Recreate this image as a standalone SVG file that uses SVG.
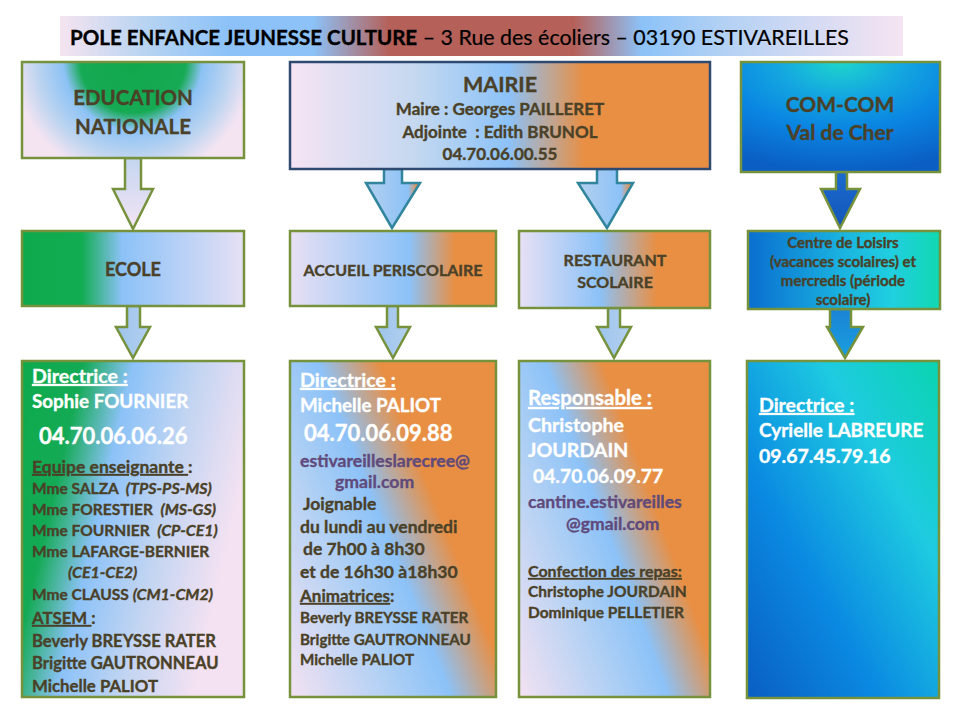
<svg xmlns="http://www.w3.org/2000/svg" width="962" height="720" viewBox="0 0 962 720">
<defs>
<linearGradient id="gHeader" x1="0" y1="0" x2="1" y2="0">
<stop offset="0" stop-color="#f6e4f0"/>
<stop offset="0.1" stop-color="#b8d4f2"/>
<stop offset="0.2" stop-color="#8cc2f8"/>
<stop offset="0.3" stop-color="#8cc2f8"/>
<stop offset="0.39" stop-color="#b5615a"/>
<stop offset="0.61" stop-color="#b5615a"/>
<stop offset="0.69" stop-color="#8cc2f8"/>
<stop offset="0.78" stop-color="#b0d0f4"/>
<stop offset="1" stop-color="#f6e4f2"/>
</linearGradient>
<radialGradient id="gEduNat" gradientUnits="userSpaceOnUse" cx="133" cy="60" r="120">
<stop offset="0" stop-color="#10a84c"/>
<stop offset="0.44" stop-color="#16aa54"/>
<stop offset="0.58" stop-color="#8cc2f5"/>
<stop offset="0.8" stop-color="#bcd4f0"/>
<stop offset="1" stop-color="#f4e4f2"/>
</radialGradient>
<linearGradient id="gEcole" x1="0" y1="0" x2="1" y2="0">
<stop offset="0" stop-color="#0daa4c"/>
<stop offset="0.27" stop-color="#12ac52"/>
<stop offset="0.45" stop-color="#8cc2f8"/>
<stop offset="1" stop-color="#e6e0f4"/>
</linearGradient>
<linearGradient id="gEcoleDet" x1="0" y1="0" x2="1" y2="0.35">
<stop offset="0" stop-color="#0daa4c"/>
<stop offset="0.25" stop-color="#14aa55"/>
<stop offset="0.45" stop-color="#8cc2f8"/>
<stop offset="0.7" stop-color="#c0d4f2"/>
<stop offset="1" stop-color="#f4e2f2"/>
</linearGradient>
<linearGradient id="gMairie" x1="0" y1="0" x2="1" y2="0">
<stop offset="0" stop-color="#f6e4f4"/>
<stop offset="0.3" stop-color="#c4d8f0"/>
<stop offset="0.52" stop-color="#8cc2f8"/>
<stop offset="0.7" stop-color="#e88f44"/>
<stop offset="1" stop-color="#e88f44"/>
</linearGradient>
<linearGradient id="gAccueil" x1="0" y1="0" x2="1" y2="0">
<stop offset="0" stop-color="#e8e0f4"/>
<stop offset="0.58" stop-color="#8cc2f8"/>
<stop offset="0.8" stop-color="#e88f44"/>
<stop offset="1" stop-color="#e88f44"/>
</linearGradient>
<linearGradient id="gResto" x1="0" y1="0" x2="1" y2="0">
<stop offset="0" stop-color="#e8e0f4"/>
<stop offset="0.42" stop-color="#8cc2f8"/>
<stop offset="0.72" stop-color="#e88f44"/>
<stop offset="1" stop-color="#e88f44"/>
</linearGradient>
<linearGradient id="gDiag" x1="0" y1="1" x2="1" y2="0.35">
<stop offset="0" stop-color="#f4e2f2"/>
<stop offset="0.35" stop-color="#b0d0f4"/>
<stop offset="0.55" stop-color="#8cc2f8"/>
<stop offset="0.76" stop-color="#e88f44"/>
<stop offset="1" stop-color="#e88f44"/>
</linearGradient>
<radialGradient id="gComCom" cx="0.5" cy="0" r="1" fx="0.5" fy="0">
<stop offset="0" stop-color="#1ed6cc"/>
<stop offset="0.3" stop-color="#14a8e0"/>
<stop offset="0.6" stop-color="#0a86e2"/>
<stop offset="1" stop-color="#0a5ec4"/>
</radialGradient>
<linearGradient id="gLoisirs" x1="0" y1="0" x2="1" y2="0">
<stop offset="0" stop-color="#0a6ed0"/>
<stop offset="0.5" stop-color="#1ab4e0"/>
<stop offset="0.75" stop-color="#20cfe0"/>
<stop offset="1" stop-color="#10d8b0"/>
</linearGradient>
<linearGradient id="gComDet" x1="0" y1="1" x2="1" y2="0">
<stop offset="0" stop-color="#0a5ec4"/>
<stop offset="0.35" stop-color="#0a8ae2"/>
<stop offset="0.7" stop-color="#1ecbe0"/>
<stop offset="1" stop-color="#0ad4b0"/>
</linearGradient>
<linearGradient id="gArrEdu" x1="0" y1="0" x2="0" y2="1">
<stop offset="0" stop-color="#c4d6f0"/>
<stop offset="1" stop-color="#f4e4f4"/>
</linearGradient>
<linearGradient id="gArrMairie" x1="0" y1="0" x2="1" y2="0">
<stop offset="0" stop-color="#b4d0ee"/>
<stop offset="0.78" stop-color="#8cc2f8"/>
<stop offset="0.95" stop-color="#e88f44"/>
</linearGradient>
<linearGradient id="gArrBlue" x1="0" y1="0" x2="1" y2="0">
<stop offset="0" stop-color="#9cc4ec"/>
<stop offset="1" stop-color="#b4d0f0"/>
</linearGradient>
<linearGradient id="gArrCom" x1="0" y1="0" x2="0" y2="1">
<stop offset="0" stop-color="#1a6ad0"/>
<stop offset="1" stop-color="#1456b8"/>
</linearGradient>
<linearGradient id="gArrLoisirs" x1="0" y1="0" x2="0" y2="1">
<stop offset="0" stop-color="#1a84d4"/>
<stop offset="1" stop-color="#1a9ee0"/>
</linearGradient>
</defs>
<style>
.box{stroke:#76923c;stroke-width:2.5}
.arr{stroke:#76923c;stroke-width:2.5;stroke-linejoin:miter}
text{font-family:Lato,"Liberation Sans",sans-serif;font-weight:bold;fill:#4a4128;stroke:#4a4128;stroke-width:0.35}
.c{text-anchor:middle}
.w{fill:#ffffff;stroke:#ffffff}
.p{fill:#604a7b;stroke:#604a7b}
.k{fill:#000000;stroke:#000000}
.i{font-style:italic}
.u{text-decoration:underline}
</style>
<rect width="962" height="720" fill="#ffffff"/>

<g id="header">
<rect x="60" y="16" width="843" height="40" fill="url(#gHeader)"/>
<text class="k" x="70" y="45" font-size="20.5">POLE ENFANCE JEUNESSE CULTURE<tspan font-weight="normal" font-size="21.4" stroke-width="0.2"> – 3 Rue des écoliers – 03190 ESTIVAREILLES</tspan></text>
</g>

<g id="connectors">
<polygon class="arr" fill="url(#gArrEdu)" points="125,158 141,158 141,189 153,189 133,229 113,189 125,189"/>
<polygon fill="url(#gArrMairie)" stroke="#31859c" stroke-width="2.5" points="384,169 402,169 402,183 420,183 392,228 366,183 384,183"/>
<polygon fill="url(#gArrMairie)" stroke="#31859c" stroke-width="2.5" points="597,169 617,169 617,183 633,183 607,228 578,183 597,183"/>
<polygon class="arr" fill="url(#gArrCom)" points="836,172 847,172 847,189 860,189 840,228 821,189 836,189"/>
<polygon class="arr" fill="url(#gArrBlue)" points="127,306 140,306 140,327 150,327 133,358 116,327 127,327"/>
<polygon class="arr" fill="url(#gArrBlue)" points="387,306 398,306 398,327 410,327 393,358 376,327 387,327"/>
<polygon class="arr" fill="url(#gArrBlue)" points="608,308 620,308 620,327 631,327 614,358 597,327 608,327"/>
<polygon class="arr" fill="url(#gArrLoisirs)" points="830,309 851,309 851,327 863,327 845,358 827,327 830,327"/>
</g>

<g id="education-nationale">
<rect class="box" x="22" y="62" width="222" height="96" fill="url(#gEduNat)"/>
<text class="c" x="133" y="105" font-size="20.5">EDUCATION</text>
<text class="c" x="133" y="134" font-size="20.5">NATIONALE</text>
</g>

<g id="mairie">
<rect x="290" y="62" width="420" height="107" fill="url(#gMairie)" stroke="#2f4a70" stroke-width="2.5"/>
<text class="c" x="500" y="92" font-size="21.5">MAIRIE</text>
<text class="c" x="500" y="115" font-size="17">Maire : Georges PAILLERET</text>
<text class="c" x="500" y="138" font-size="17" xml:space="preserve">Adjointe  : Edith BRUNOL</text>
<text class="c" x="500" y="160" font-size="17">04.70.06.00.55</text>
</g>

<g id="com-com">
<rect class="box" x="741" y="62" width="199" height="110" fill="url(#gComCom)"/>
<text class="c" x="840" y="112" font-size="21">COM-COM</text>
<text class="c" x="840" y="140" font-size="21">Val de Cher</text>
</g>

<g id="ecole">
<rect class="box" x="22" y="231" width="222" height="75" fill="url(#gEcole)"/>
<text class="c" x="133" y="276" font-size="18">ECOLE</text>
</g>

<g id="accueil-periscolaire">
<rect class="box" x="290" y="231" width="206" height="75" fill="url(#gAccueil)"/>
<text class="c" x="393" y="276" font-size="16">ACCUEIL PERISCOLAIRE</text>
</g>

<g id="restaurant-scolaire">
<rect class="box" x="519" y="231" width="191" height="77" fill="url(#gResto)"/>
<text class="c" x="615" y="266" font-size="16">RESTAURANT</text>
<text class="c" x="615" y="288" font-size="16">SCOLAIRE</text>
</g>

<g id="centre-de-loisirs">
<rect class="box" x="748" y="231" width="192" height="78" fill="url(#gLoisirs)"/>
<text class="c" x="843" y="248" font-size="15">Centre de Loisirs</text>
<text class="c" x="843" y="267" font-size="15">(vacances scolaires) et</text>
<text class="c" x="843" y="286" font-size="15">mercredis (période</text>
<text class="c" x="843" y="305" font-size="15">scolaire)</text>
</g>

<g id="ecole-details">
<rect class="box" x="22" y="361" width="222" height="336" fill="url(#gEcoleDet)"/>
<text class="w u" x="32" y="383" font-size="19.6">Directrice :</text>
<text class="w" x="32" y="408" font-size="18.8">Sophie FOURNIER</text>
<text class="w" x="39" y="444" font-size="22">04.70.06.06.26</text>
<text x="32" y="473" font-size="17.5"><tspan class="u">Equipe enseignante </tspan>:</text>
<text x="32" y="494" font-size="15.5" xml:space="preserve">Mme SALZA  <tspan class="i" font-size="16">(TPS-PS-MS)</tspan></text>
<text x="32" y="515" font-size="15.5" xml:space="preserve">Mme FORESTIER  <tspan class="i" font-size="16">(MS-GS)</tspan></text>
<text x="32" y="536" font-size="15.5" xml:space="preserve">Mme FOURNIER  <tspan class="i" font-size="16">(CP-CE1)</tspan></text>
<text x="32" y="557" font-size="15.5">Mme LAFARGE-BERNIER</text>
<text class="i" x="68" y="578" font-size="16">(CE1-CE2)</text>
<text x="32" y="600" font-size="15.5">Mme CLAUSS <tspan class="i" font-size="16">(CM1-CM2)</tspan></text>
<text x="32" y="624" font-size="16.8"><tspan class="u">ATSEM </tspan>:</text>
<text x="32" y="647" font-size="16.6">Beverly BREYSSE RATER</text>
<text x="32" y="669" font-size="16.6">Brigitte GAUTRONNEAU</text>
<text x="32" y="692" font-size="16.8">Michelle PALIOT</text>
</g>

<g id="accueil-details">
<rect class="box" x="290" y="361" width="206" height="336" fill="url(#gDiag)"/>
<text class="w u" x="300" y="387" font-size="19.6">Directrice :</text>
<text class="w" x="300" y="412" font-size="18.8">Michelle PALIOT</text>
<text class="w" x="304" y="441" font-size="22">04.70.06.09.88</text>
<text class="p" x="300" y="467" font-size="17.6">estivareilleslarecree@</text>
<text class="p" x="335" y="488" font-size="17.6">gmail.com</text>
<text x="303" y="510" font-size="17.5">Joignable</text>
<text x="300" y="533" font-size="17.5">du lundi au vendredi</text>
<text x="303" y="555" font-size="17.5">de 7h00 à 8h30</text>
<text x="300" y="578" font-size="17.5">et de 16h30 à18h30</text>
<text x="300" y="602" font-size="17"><tspan class="u">Animatrices</tspan>:</text>
<text x="300" y="623" font-size="15.2">Beverly BREYSSE RATER</text>
<text x="300" y="645" font-size="15.2">Brigitte GAUTRONNEAU</text>
<text x="300" y="665" font-size="15.2">Michelle PALIOT</text>
</g>

<g id="restaurant-details">
<rect class="box" x="519" y="361" width="191" height="336" fill="url(#gDiag)"/>
<text class="w u" x="528" y="405" font-size="20.4">Responsable :</text>
<text class="w" x="528" y="432" font-size="19.6">Christophe</text>
<text class="w" x="528" y="457" font-size="19.6">JOURDAIN</text>
<text class="w" x="533" y="483" font-size="19.3">04.70.06.09.77</text>
<text class="p" x="528" y="508" font-size="17.5">cantine.estivareilles</text>
<text class="p" x="566" y="530" font-size="17.5">@gmail.com</text>
<text class="u" x="528" y="577" font-size="16">Confection des repas:</text>
<text x="528" y="597" font-size="15.5">Christophe JOURDAIN</text>
<text x="528" y="618" font-size="15.5">Dominique PELLETIER</text>
</g>

<g id="centre-de-loisirs-details">
<rect class="box" x="747" y="361" width="192" height="337" fill="url(#gComDet)"/>
<text class="w u" x="759" y="412" font-size="19.5">Directrice :</text>
<text class="w" x="759" y="437" font-size="19">Cyrielle LABREURE</text>
<text class="w" x="759" y="463" font-size="19.5">09.67.45.79.16</text>
</g>
</svg>
